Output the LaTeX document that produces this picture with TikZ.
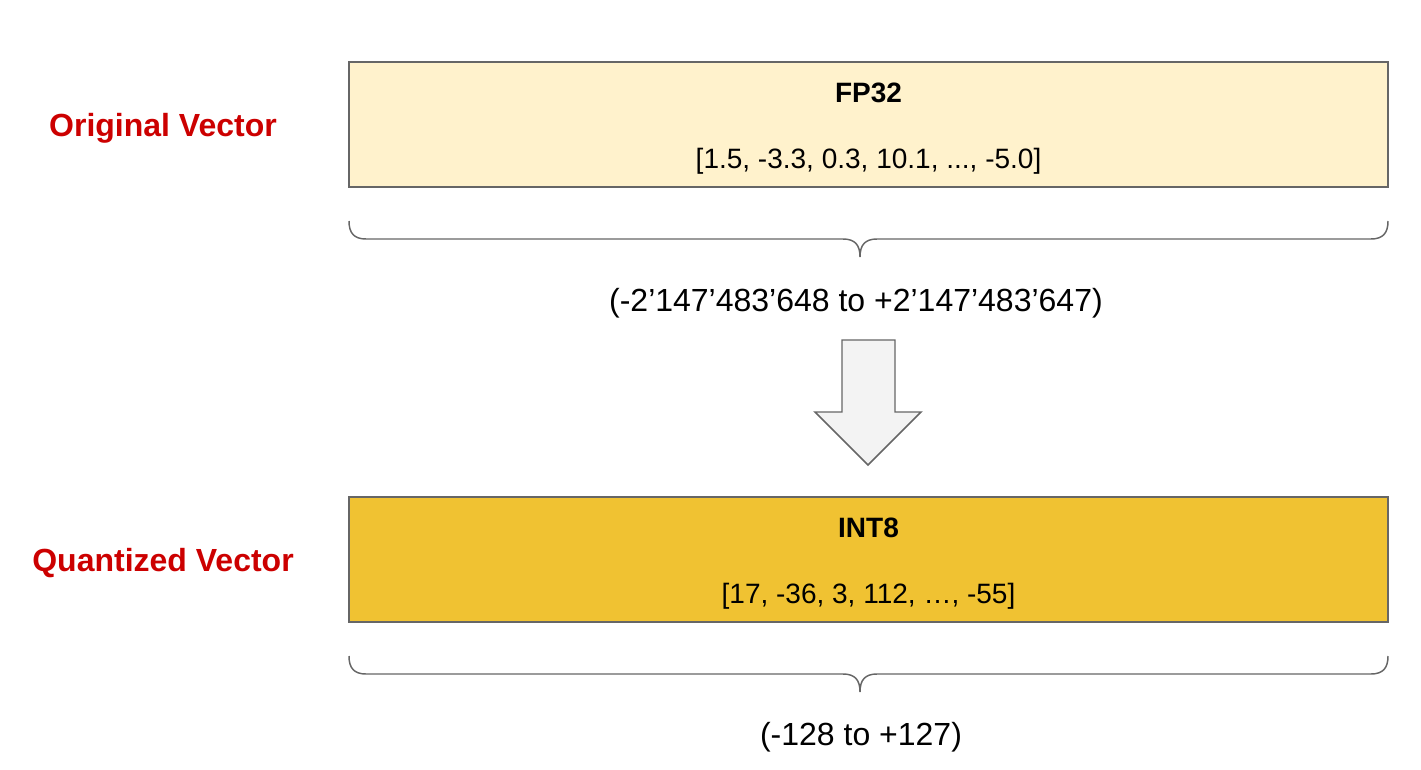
\documentclass[tikz,border=0pt]{standalone}
\usepackage{fontspec}
\setmainfont{Liberation Sans}
\usepackage{tikz}
\usetikzlibrary{positioning}
\definecolor{fpfill}{HTML}{FFF2CC}
\definecolor{intfill}{HTML}{F0C232}
\definecolor{edgegray}{HTML}{666666}
\definecolor{labelred}{HTML}{CC0000}
\definecolor{arrowfill}{HTML}{F3F3F3}

\begin{document}
\begin{tikzpicture}[x=0.75pt, y=-0.75pt,
    vecbox/.style = {draw=edgegray, line width=1.1pt, minimum width=779.25pt, minimum height=93.75pt, inner sep=0pt},
    vectitle/.style = {font=\fontsize{21}{25}\selectfont\bfseries, anchor=base},
    vecvals/.style = {font=\fontsize{21}{25}\selectfont, anchor=base},
    spanlabel/.style = {font=\fontsize{24}{28}\selectfont, anchor=base},
    sidelabel/.style = {font=\fontsize{24}{28}\selectfont\bfseries, text=labelred, anchor=base},
    bracket/.style = {draw=edgegray, line width=1.1pt}]
    \useasboundingbox (0,0) rectangle (1421,770);
    % Boxes
    \node[vecbox, fill=fpfill] (fp) at (868.5,124.5) {};
    \node[vecbox, fill=intfill] (int) at (868.5,559.5) {};
    % Texts
    \node[vectitle] (fptitle) at (868.5,103) {FP32};
    \node[vecvals] (fpvals) at (868.5,169) {[1.5, -3.3, 0.3, 10.1, ..., -5.0]};
    \node[vectitle] (inttitle) at (868.5,537) {INT8};
    \node[vecvals] (intvals) at (868.5,603) {[17, -36, 3, 112, …, -55]};
    \node[spanlabel] (fprange) at (856,311) {(-2’147’483’648 to +2’147’483’647)};
    \node[spanlabel] (intrange) at (861,745) {(-128 to +127)};
    \node[sidelabel] (orig) at (163,137) {Original Vector};
    \node[sidelabel] (quant) at (163,571) {Quantized Vector};
    % Braces
    \draw[bracket] (349,221) .. controls (349,233) and (354,239) .. (366,239) -- (843,239)
        .. controls (855,239) and (860,245) .. (860,257)
        .. controls (860,245) and (865,239) .. (877,239) -- (1371,239)
        .. controls (1383,239) and (1388,233) .. (1388,221);
    \draw[bracket] (349,656) .. controls (349,668) and (354,674) .. (366,674) -- (843,674)
        .. controls (855,674) and (860,680) .. (860,692)
        .. controls (860,680) and (865,674) .. (877,674) -- (1371,674)
        .. controls (1383,674) and (1388,668) .. (1388,656);
    % Arrow
    \draw[draw=edgegray, line width=1.1pt, fill=arrowfill, line join=miter]
        (842,340) -- (895,340) -- (895,412) -- (921,412) -- (868,465) -- (815,412) -- (842,412) -- cycle;
\end{tikzpicture}
\end{document}
